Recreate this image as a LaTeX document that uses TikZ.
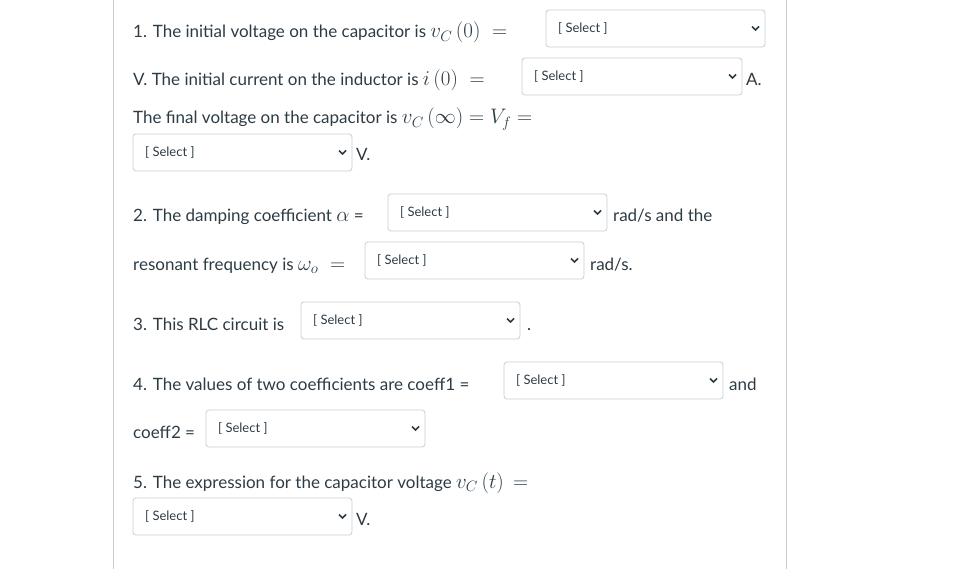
\RequirePackage{fix-cm}
\documentclass[tikz,border=0pt]{standalone}
\usepackage{fontspec}
\setmainfont{Lato}
\DeclareMathSizes{17}{21}{15}{11}
\definecolor{txt}{HTML}{2D3B45}
\definecolor{bord}{HTML}{C7CDD1}
\newcommand{\selbox}[5]{%
  \draw[bord,rounded corners=3pt,line width=0.8pt] (#2,#3) rectangle (#4,#5);
  \node[seltxt] (#1) at (#2+12,{(#3+#5)/2}) {[ Select ]};
  \draw[txt,line width=1.6pt] (#4-13,{(#3+#5)/2-2}) -- (#4-9.5,{(#3+#5)/2+1.5}) -- (#4-6,{(#3+#5)/2-2});
}
\begin{document}
\begin{tikzpicture}[x=1pt,y=-1pt,
  t/.style={anchor=base west,inner sep=0pt,text=txt,font=\fontsize{17}{20}\selectfont},
  seltxt/.style={anchor=west,inner sep=0pt,text=txt,font=\fontsize{13}{15}\selectfont}]
\useasboundingbox (0,0) rectangle (979,569);
\draw[bord,line width=0.8pt] (113,0) -- (113,569);
\draw[bord,line width=0.8pt] (786,0) -- (786,569);
\node[t] (l1) at (133,38) {1. The initial voltage on the capacitor is $v_C\left(0\right)\;=$};
\selbox{s1}{546}{10}{765}{47}
\node[t] (l2) at (133,86) {V. The initial current on the inductor is $i\left(0\right)\;=$};
\selbox{s2}{522}{58}{742}{95}
\node[t] (l2b) at (746,86) {A.};
\node[t] (l3) at (133,124) {The final voltage on the capacitor is $v_C\left(\infty\right)=V_f=$};
\selbox{s3}{133}{134}{352}{171}
\node[t] (l3b) at (356,161) {V.};
\node[t] (l4) at (133,222) {2. The damping coefficient $\alpha$ =};
\selbox{s4}{388}{194}{607}{231}
\node[t] (l4b) at (613,222) {rad/s and the};
\node[t] (l5) at (133,270) {resonant frequency is $\omega_o\;=$};
\selbox{s5}{365}{242}{584}{279}
\node[t] (l5b) at (590,270) {rad/s.};
\node[t] (l6) at (133,330) {3. This RLC circuit is};
\selbox{s6}{301}{302}{520}{339}
\node[t] (l6b) at (527,330) {.};
\node[t] (l7) at (133,390) {4. The values of two coefficients are coeff1 =};
\selbox{s7}{504}{362}{723}{399}
\node[t] (l7b) at (729,390) {and};
\node[t] (l8) at (133,438) {coeff2 =};
\selbox{s8}{206}{410}{425}{447}
\node[t] (l9) at (133,488) {5. The expression for the capacitor voltage $v_C\left(t\right)\,=$};
\selbox{s9}{133}{498}{352}{535}
\node[t] (l9b) at (356,525) {V.};
\end{tikzpicture}
\end{document}
